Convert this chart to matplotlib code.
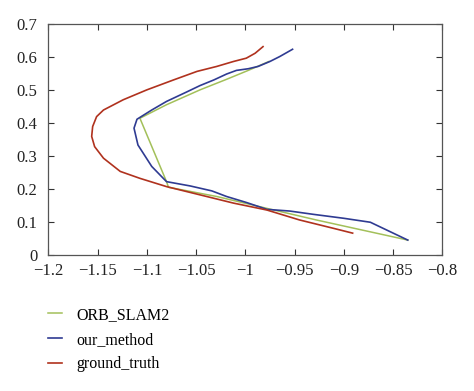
# Trajectory comparison: ORB_SLAM2 vs our method vs ground truth.

import matplotlib.pyplot as plt

plt.rcParams['font.family'] = ['Liberation Serif', 'DejaVu Serif']

# ORB_SLAM2 trajectory.
orb_x = [-0.976, -0.997, -1.019, -1.046, -1.080, -1.107, -1.080, -1.078,
         -1.029, -0.978, -0.928, -0.835]
orb_y = [0.586, 0.559, 0.532, 0.500, 0.455, 0.414, 0.222, 0.205,
         0.177, 0.141, 0.106, 0.045]

# Our method trajectory.
our_x = [-0.952, -0.965, -0.975, -0.987, -0.997, -1.009, -1.019, -1.032,
         -1.046, -1.060, -1.080, -1.095, -1.110, -1.113, -1.109, -1.095,
         -1.080, -1.056, -1.034, -1.019, -0.999, -0.978, -0.955, -0.931,
         -0.900, -0.873, -0.835]
our_y = [0.623, 0.601, 0.586, 0.571, 0.564, 0.559, 0.548, 0.530,
         0.513, 0.493, 0.465, 0.439, 0.411, 0.384, 0.333, 0.268,
         0.222, 0.209, 0.194, 0.177, 0.159, 0.138, 0.133, 0.123,
         0.111, 0.099, 0.045]

# Ground truth trajectory.
gt_x = [-0.982, -0.990, -0.999, -1.012, -1.029, -1.049, -1.073, -1.100,
        -1.124, -1.144, -1.151, -1.155, -1.156, -1.153, -1.144, -1.127,
        -1.107, -1.080, -1.046, -1.012, -0.978, -0.945, -0.911, -0.891]
gt_y = [0.631, 0.611, 0.596, 0.586, 0.571, 0.556, 0.530, 0.500,
        0.470, 0.439, 0.419, 0.389, 0.359, 0.328, 0.293, 0.253,
        0.232, 0.207, 0.182, 0.157, 0.136, 0.106, 0.081, 0.066]

fig = plt.figure(figsize=(4.74, 3.91), dpi=100)
ax = fig.add_axes([0.102, 0.348, 0.831, 0.591])

ax.plot(orb_x, orb_y, color='#a3c05a', linewidth=1.1, label='ORB_SLAM2')
ax.plot(our_x, our_y, color='#2f3b92', linewidth=1.2, label='our_method')
ax.plot(gt_x, gt_y, color='#b0321e', linewidth=1.2, label='ground_truth')

ax.set_xlim(-1.2, -0.8)
ax.set_ylim(0, 0.7)
ax.set_xticks([-1.2, -1.15, -1.1, -1.05, -1, -0.95, -0.9, -0.85, -0.8])
ax.set_xticklabels(['\u22121.2', '\u22121.15', '\u22121.1', '\u22121.05', '\u22121',
                    '\u22120.95', '\u22120.9', '\u22120.85', '\u22120.8'])
ax.set_yticks([0, 0.1, 0.2, 0.3, 0.4, 0.5, 0.6, 0.7])
ax.set_yticklabels(['0', '0.1', '0.2', '0.3', '0.4', '0.5', '0.6', '0.7'])
ax.tick_params(axis='both', direction='in', top=True, right=True,
               labelsize=12, length=4, colors='#333333', labelcolor='#222222')
ax.tick_params(axis='x', pad=6)
ax.tick_params(axis='y', pad=8)
for spine in ax.spines.values():
    spine.set_color('#555555')
    spine.set_linewidth(0.9)

fig.legend(loc='upper left', bbox_to_anchor=(0.07, 0.252), frameon=False,
           fontsize=11.5, handlelength=0.9, handletextpad=0.9, labelspacing=0.55)

plt.savefig('out.png', dpi=100)
